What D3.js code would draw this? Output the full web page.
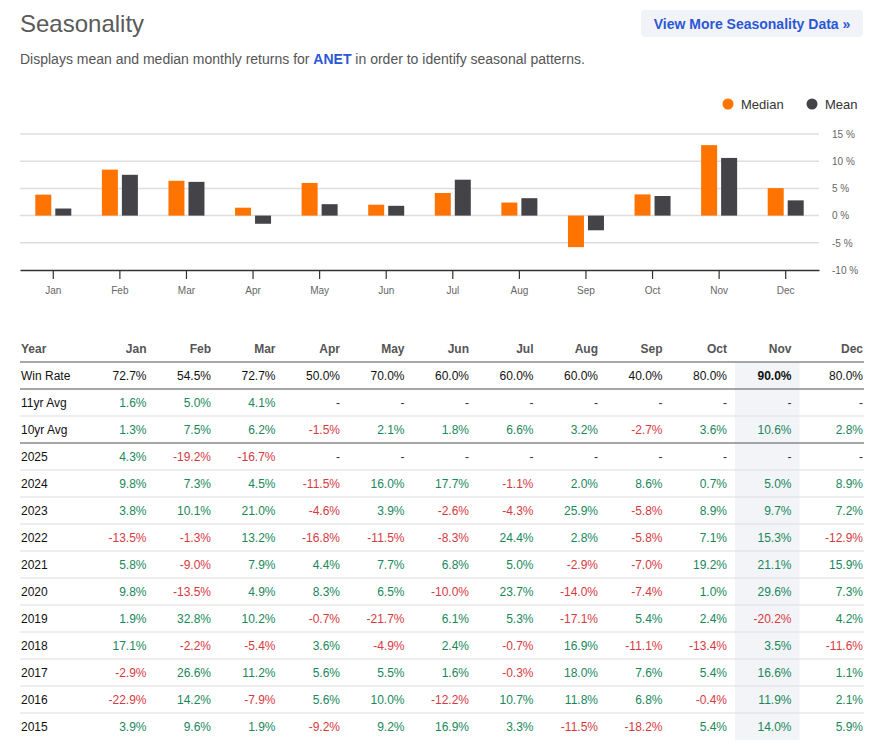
<!DOCTYPE html>
<html>
<head>
<meta charset="utf-8">
<script src="https://cdn.jsdelivr.net/npm/d3@7"></script>
<style>
  html, body { margin: 0; padding: 0; background: #fff; }
  svg { display: block; font-family: "Liberation Sans", Arial, sans-serif; }
</style>
</head>
<body>
<svg id="chart" width="876" height="756"></svg>
<script>
// ---------- data ----------
const months = ["Jan","Feb","Mar","Apr","May","Jun","Jul","Aug","Sep","Oct","Nov","Dec"];
const series = ["Median","Mean"];
const medianValues = [3.85, 8.45, 6.4, 1.45, 6.0, 2.0, 4.15, 2.4, -5.8, 3.9, 12.95, 5.05];
const meanValues   = [1.3, 7.5, 6.2, -1.5, 2.1, 1.8, 6.6, 3.2, -2.7, 3.6, 10.6, 2.8];
const yTicks = [15, 10, 5, 0, -5, -10];

const winRate = [72.7, 54.5, 72.7, 50.0, 70.0, 60.0, 60.0, 60.0, 40.0, 80.0, 90.0, 80.0];
const avg11yr = [1.6, 5.0, 4.1, null, null, null, null, null, null, null, null, null];
const avg10yr = [1.3, 7.5, 6.2, -1.5, 2.1, 1.8, 6.6, 3.2, -2.7, 3.6, 10.6, 2.8];
const years = ["2025","2024","2023","2022","2021","2020","2019","2018","2017","2016","2015"];
const yearReturns = [
  [4.3, -19.2, -16.7, null, null, null, null, null, null, null, null, null],
  [9.8, 7.3, 4.5, -11.5, 16.0, 17.7, -1.1, 2.0, 8.6, 0.7, 5.0, 8.9],
  [3.8, 10.1, 21.0, -4.6, 3.9, -2.6, -4.3, 25.9, -5.8, 8.9, 9.7, 7.2],
  [-13.5, -1.3, 13.2, -16.8, -11.5, -8.3, 24.4, 2.8, -5.8, 7.1, 15.3, -12.9],
  [5.8, -9.0, 7.9, 4.4, 7.7, 6.8, 5.0, -2.9, -7.0, 19.2, 21.1, 15.9],
  [9.8, -13.5, 4.9, 8.3, 6.5, -10.0, 23.7, -14.0, -7.4, 1.0, 29.6, 7.3],
  [1.9, 32.8, 10.2, -0.7, -21.7, 6.1, 5.3, -17.1, 5.4, 2.4, -20.2, 4.2],
  [17.1, -2.2, -5.4, 3.6, -4.9, 2.4, -0.7, 16.9, -11.1, -13.4, 3.5, -11.6],
  [-2.9, 26.6, 11.2, 5.6, 5.5, 1.6, -0.3, 18.0, 7.6, 5.4, 16.6, 1.1],
  [-22.9, 14.2, -7.9, 5.6, 10.0, -12.2, 10.7, 11.8, 6.8, -0.4, 11.9, 2.1],
  [3.9, 9.6, 1.9, -9.2, 9.2, 16.9, 3.3, -11.5, -18.2, 5.4, 14.0, 5.9]
];
const highlightMonth = "Nov";

// ---------- styles ----------
const COLORS = { Median: "#ff7300", Mean: "#434348" };
const GREEN = "#19875c", RED = "#d43a3f", BLUE = "#2b58d6";

const svg = d3.select("#chart");

// ---------- header ----------
svg.append("text").attr("x", 20).attr("y", 32)
  .attr("font-size", 24).attr("fill", "#5a5a5a").text("Seasonality");

const sub = svg.append("text").attr("x", 20).attr("y", 64)
  .attr("font-size", 14).attr("fill", "#555");
sub.append("tspan").text("Displays mean and median monthly returns for ");
sub.append("tspan").attr("font-weight", "bold").attr("fill", BLUE).text("ANET");
sub.append("tspan").text(" in order to identify seasonal patterns.");

svg.append("rect").attr("x", 641).attr("y", 10).attr("width", 222).attr("height", 27)
  .attr("rx", 4).attr("fill", "#f1f3f8");
svg.append("text").attr("x", 752).attr("y", 28.5).attr("text-anchor", "middle")
  .attr("font-size", 14).attr("font-weight", "bold").attr("fill", BLUE)
  .text("View More Seasonality Data »");

// ---------- legend ----------
const legendX = [728, 812];
series.forEach((s, i) => {
  const g = svg.append("g").attr("transform", `translate(${legendX[i]},104)`);
  g.append("circle").attr("r", 5.5).attr("fill", COLORS[s]);
  g.append("text").attr("x", 13).attr("y", 4.5).attr("font-size", 13)
    .attr("fill", "#333").text(s);
});

// ---------- chart ----------
const x = d3.scaleBand().domain(months).range([20, 819]).padding(0);
const x1 = d3.scaleBand().domain(series).range([0, 36]).paddingInner(0.2).paddingOuter(0);
const y = d3.scaleLinear().domain([-10, 15]).range([270, 134]);

// gridlines
svg.append("g").selectAll("line").data(yTicks.filter(t => t !== -10)).join("line")
  .attr("x1", 20).attr("x2", 819)
  .attr("y1", d => y(d)).attr("y2", d => y(d))
  .attr("stroke", "#dedede").attr("stroke-width", 1.5);

// y labels
const yAxis = d3.axisRight(y).tickValues(yTicks).tickSize(0).tickPadding(0)
  .tickFormat(d => d + " %");
const gy = svg.append("g").attr("transform", "translate(832,0)").call(yAxis);
gy.select(".domain").remove();
gy.selectAll("text").attr("font-size", 10).attr("fill", "#666")
  .attr("font-family", "Liberation Sans, Arial, sans-serif");

// bars
const data = months.map((m, i) => ({ month: m, Median: medianValues[i], Mean: meanValues[i] }));
const groups = svg.append("g").selectAll("g").data(data).join("g")
  .attr("transform", d => `translate(${x(d.month) + x.bandwidth() / 2 - 18},0)`);
groups.selectAll("rect").data(d => series.map(s => ({ key: s, value: d[s] }))).join("rect")
  .attr("x", d => x1(d.key))
  .attr("width", x1.bandwidth())
  .attr("y", d => y(Math.max(0, d.value)))
  .attr("height", d => Math.abs(y(d.value) - y(0)))
  .attr("fill", d => COLORS[d.key]);

// x axis
const xAxis = d3.axisBottom(x).tickSize(9).tickPadding(8).tickSizeOuter(0);
const gx = svg.append("g").attr("transform", `translate(0,${y(-10)})`).call(xAxis);
gx.select(".domain").attr("stroke", "#333").attr("stroke-width", 1.5);
gx.selectAll(".tick line").attr("stroke", "#333").attr("stroke-width", 1.2);
gx.selectAll("text").attr("font-size", 10).attr("fill", "#666")
  .attr("font-family", "Liberation Sans, Arial, sans-serif");

// ---------- table ----------
const tLeft = 20, tRight = 864;
const col = d3.scaleBand().domain(months).range([90, 864]).padding(0);
const headerLineY = 362, rowH = 27;
const textX = m => m === "Dec" ? col(m) + col.bandwidth() - 1 : col(m) + col.bandwidth() - 8;

const rows = [
  { label: "Win Rate", values: winRate, type: "win", line: "dark" },
  { label: "11yr Avg", values: avg11yr, type: "ret", line: "light" },
  { label: "10yr Avg", values: avg10yr, type: "ret", line: "dark" }
].concat(years.map((yr, i) => ({ label: yr, values: yearReturns[i], type: "ret", line: i === years.length - 1 ? "none" : "light" })));

const tableBottom = headerLineY + rows.length * rowH;

// highlight column
svg.append("rect").attr("x", col(highlightMonth)).attr("y", headerLineY)
  .attr("width", col.bandwidth()).attr("height", tableBottom - headerLineY)
  .attr("fill", "#f2f4f7");

// header
const head = svg.append("g");
head.append("text").attr("x", 21).attr("y", 352.5).attr("font-size", 12)
  .attr("font-weight", "bold").attr("fill", "#555").text("Year");
head.selectAll("text.m").data(months).join("text").attr("class", "m")
  .attr("x", d => textX(d)).attr("y", 352.5).attr("text-anchor", "end")
  .attr("font-size", 12).attr("font-weight", "bold").attr("fill", "#555").text(d => d);
svg.append("line").attr("x1", tLeft).attr("x2", tRight)
  .attr("y1", headerLineY).attr("y2", headerLineY)
  .attr("stroke", "#8a8a8a").attr("stroke-width", 1.5);

const fmt = v => v.toFixed(1) + "%";
const maxWin = d3.max(winRate);

rows.forEach((r, ri) => {
  const top = headerLineY + ri * rowH;
  const base = top + rowH / 2 + 4.5;
  const g = svg.append("g");
  g.append("text").attr("x", 21).attr("y", base).attr("font-size", 12)
    .attr("fill", "#111").text(r.label);
  g.selectAll("text.v").data(months.map((m, i) => ({ m, v: r.values[i] }))).join("text")
    .attr("class", "v")
    .attr("x", d => textX(d.m)).attr("y", base).attr("text-anchor", "end")
    .attr("font-size", 12)
    .attr("font-weight", d => (r.type === "win" && d.v === maxWin) ? "bold" : "normal")
    .attr("fill", d => {
      if (d.v === null) return "#333";
      if (r.type === "win") return "#111";
      return d.v < 0 ? RED : GREEN;
    })
    .text(d => d.v === null ? "-" : fmt(d.v));
  if (r.line !== "none") {
    const ly = top + rowH;
    svg.append("line").attr("x1", tLeft).attr("x2", tRight)
      .attr("y1", ly).attr("y2", ly)
      .attr("stroke", r.line === "dark" ? "#8a8a8a" : "#dddddd")
      .attr("stroke-width", r.line === "dark" ? 1.5 : 1.2);
  }
});
</script>
</body>
</html>
